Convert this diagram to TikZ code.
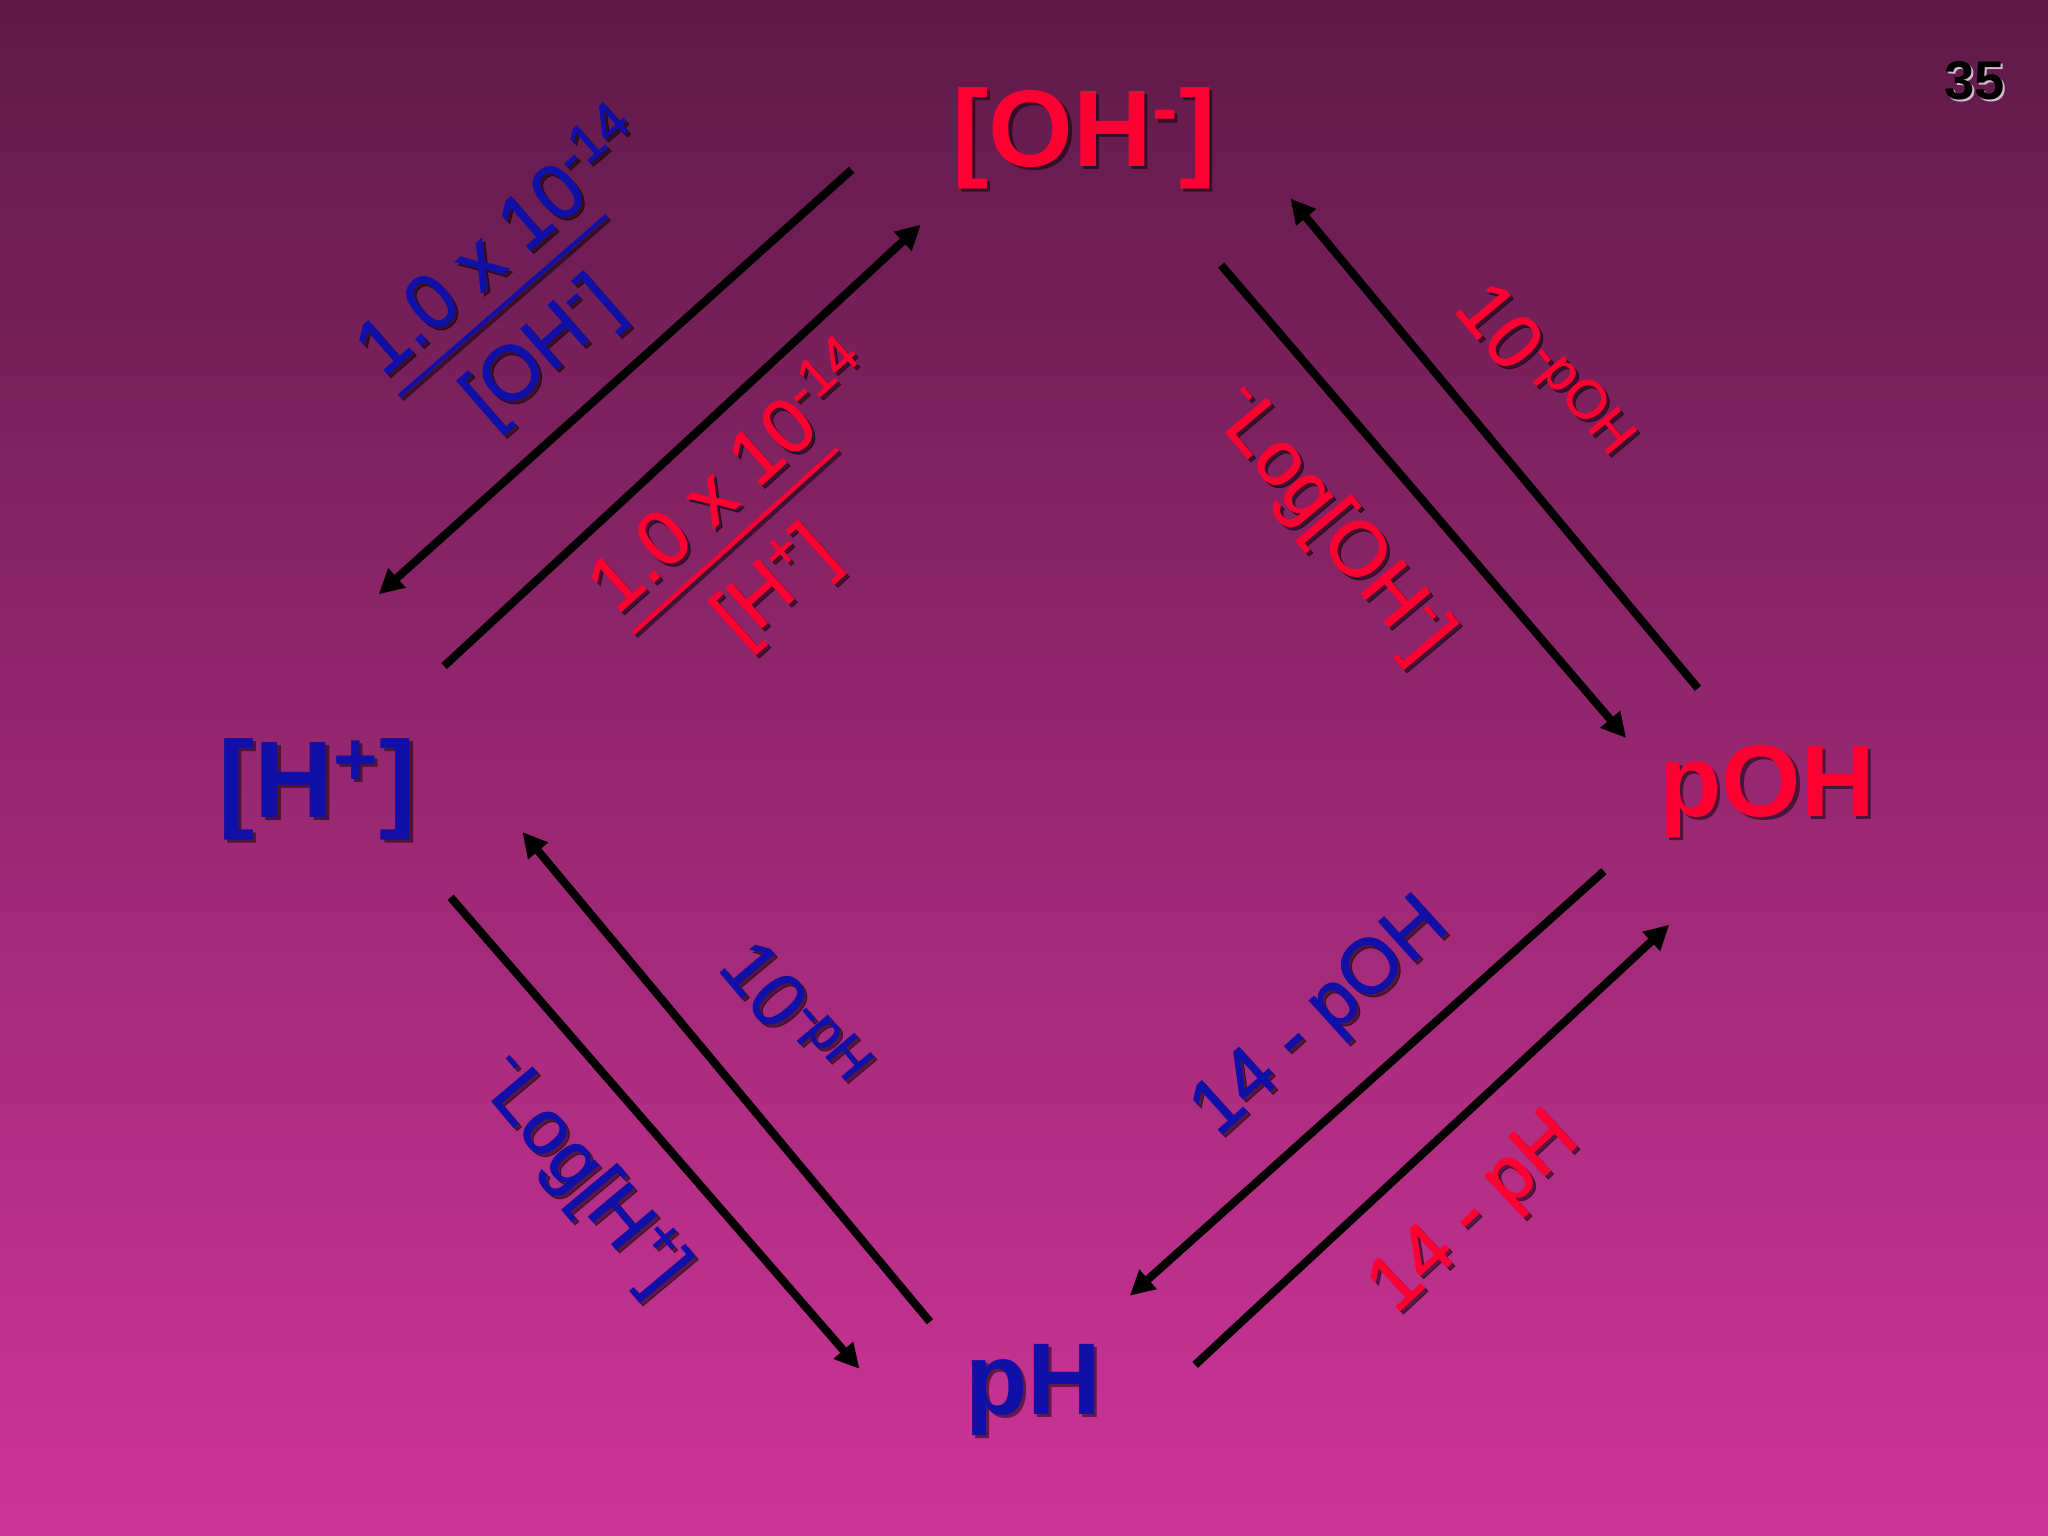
\documentclass[tikz,border=0pt]{standalone}
\usepackage{fontspec}
\setmainfont{Liberation Sans}
\newfontfamily\medfont[FakeBold=1.2]{Liberation Sans}
\usetikzlibrary{arrows.meta,calc}
\definecolor{bgtop}{RGB}{94,26,72}
\definecolor{bgmid}{RGB}{162,40,120}
\definecolor{bgbot}{RGB}{206,52,152}
\definecolor{lred}{RGB}{255,0,51}
\definecolor{lblue}{RGB}{16,16,168}
\newcommand\sh[1]{\textsuperscript{#1}}
\newcommand\fracbox[2]{{\setlength\arrayrulewidth{1.2pt}\renewcommand\arraystretch{1}\begin{tabular}{@{}c@{}}#1\\[-1pt]\hline\noalign{\vskip 6pt}#2\end{tabular}}}
\newcommand\stxt[4]{%
  \node[#3, text=black, opacity=0.5] at ($(#2)+(2.5,2.5)$) {#4};
  \node[#3] (#1) at (#2) {#4};}
\tikzset{
  x=0.013061cm, y=-0.013061cm,
  mainlbl/.style={inner sep=0pt, font=\fontsize{31}{34}\selectfont\bfseries},
  rotlbl/.style={inner sep=0pt, font=\fontsize{22}{25}\selectfont\medfont},
  fraclbl/.style={inner sep=0pt, font=\fontsize{22}{24}\selectfont\medfont},
  arr/.style={line width=2.3pt, draw=black, -{Triangle[length=7pt,width=7pt]}},
}
\begin{document}
\begin{tikzpicture}
\shade[top color=bgtop, middle color=bgmid, bottom color=bgbot] (0,0) rectangle (1568,1176);
\useasboundingbox (0,0) rectangle (1568,1176);
% page number
\node[inner sep=0pt, font=\fontsize{15.5}{18}\selectfont\bfseries, text=white, opacity=0.7] at (1513.5,63.5) {35};
\node[inner sep=0pt, font=\fontsize{15.5}{18}\selectfont\bfseries, text=black] (num) at (1512,62) {35};
% main labels
\stxt{oh}{830,106}{mainlbl, text=lred}{[OH\sh{-}]}
\stxt{h}{243,604}{mainlbl, text=lblue}{[H\sh{+}]}
\stxt{poh}{1353,606}{mainlbl, text=lred, font=\fontsize{29}{32}\selectfont\bfseries}{pOH}
\stxt{ph}{791,1064}{mainlbl, text=lblue, font=\fontsize{29}{32}\selectfont\bfseries}{pH}
% arrow end points
\coordinate (a1s) at (652,130); \coordinate (a1e) at (290,455);
\coordinate (a2s) at (340,510); \coordinate (a2e) at (705,172);
\coordinate (a3s) at (935,203); \coordinate (a3e) at (1245,565);
\coordinate (a4s) at (1300,527); \coordinate (a4e) at (988,152);
\coordinate (a5s) at (345,687); \coordinate (a5e) at (658,1048);
\coordinate (a6s) at (712,1012); \coordinate (a6e) at (400,637);
\coordinate (a7s) at (1228,667); \coordinate (a7e) at (865,992);
\coordinate (a8s) at (915,1045); \coordinate (a8e) at (1278,708);
\draw[arr] (a1s) -- (a1e);
\draw[arr] (a2s) -- (a2e);
\draw[arr] (a3s) -- (a3e);
\draw[arr] (a4s) -- (a4e);
\draw[arr] (a5s) -- (a5e);
\draw[arr] (a6s) -- (a6e);
\draw[arr] (a7s) -- (a7e);
\draw[arr] (a8s) -- (a8e);
% conversion labels
\stxt{f1}{390,240}{fraclbl, text=lblue, rotate=41}{\fracbox{1.0 x 10\rlap{\sh{-14}}}{[OH\sh{-}]}}
\stxt{f2}{568,420}{fraclbl, text=lred, rotate=42}{\fracbox{1.0 x 10\rlap{\sh{-14}}}{[H\sh{+}]}}
\stxt{l3}{1018,402}{rotlbl, text=lred, rotate=-50}{\sh{-}Log[OH\sh{-}]}
\stxt{l4}{1184,285}{rotlbl, text=lred, rotate=-50}{10\sh{-pOH}}
\stxt{l5}{445,900}{rotlbl, text=lblue, rotate=-50}{\sh{-}Log[H\sh{+}]}
\stxt{l6}{610,777}{rotlbl, text=lblue, rotate=-50}{10\sh{-pH}}
\stxt{l7}{1012,780}{rotlbl, text=lblue, rotate=42}{14 - pOH}
\stxt{l8}{1130,930}{rotlbl, text=lred, rotate=43}{14 - pH}
\end{tikzpicture}
\end{document}
